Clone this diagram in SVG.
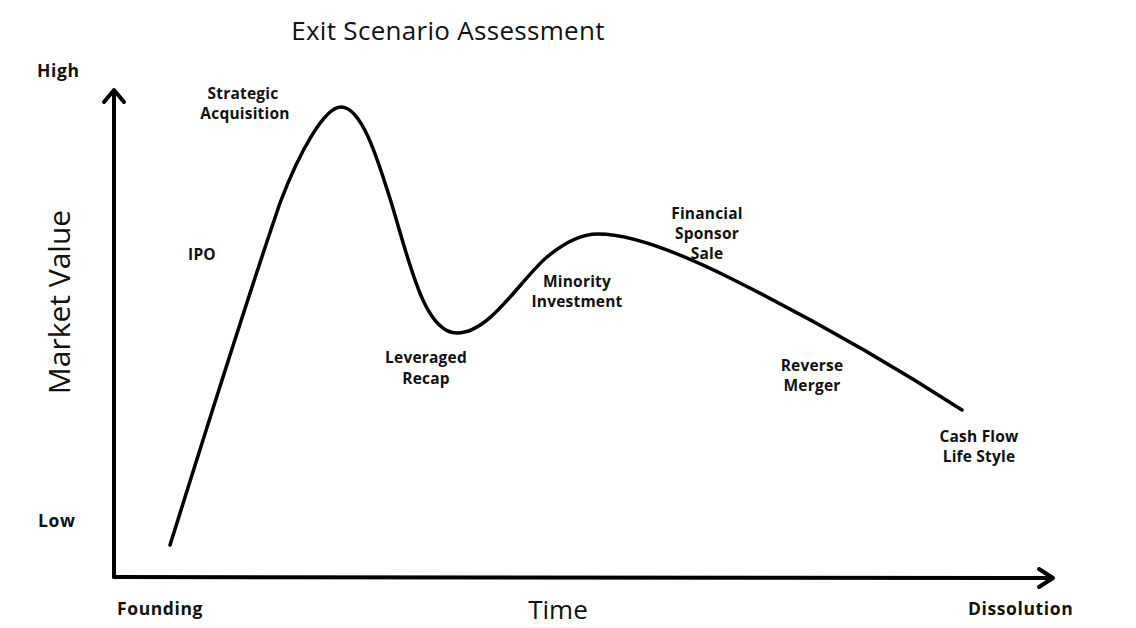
<svg xmlns="http://www.w3.org/2000/svg" width="1136" height="628" viewBox="0 0 1136 628">
<style>
.lbl{font-family:"Open Sans",Lato,sans-serif;font-weight:bold;font-size:15.5px;letter-spacing:0.2px;fill:#111;text-anchor:middle}
.ax{font-family:"Open Sans",Lato,sans-serif;font-weight:bold;font-size:17.5px;letter-spacing:0.6px;fill:#111}
.big{font-family:"Open Sans",Lato,sans-serif;font-size:26px;fill:#111;text-anchor:middle}
.line{fill:none;stroke:#000;stroke-linecap:round;stroke-linejoin:round}
</style>
<rect width="1136" height="628" fill="#fff"/>
<text class="big" x="448" y="40" style="letter-spacing:0.3px">Exit Scenario Assessment</text>
<g id="axes">
<path class="line" d="M114 577 L114 92" stroke-width="4"/>
<path class="line" d="M104 102 L114 90 L124 102" stroke-width="4"/>
<path class="line" d="M114 577 L1052 578" stroke-width="4"/>
<path class="line" d="M1039 569 L1053 578 L1039 587" stroke-width="4"/>
</g>
<g id="curve">
<path class="line" stroke-width="3.5" d="M170 545 C 200 450, 240 320, 280 203 C 300 150, 325 107, 341 107 C 362 107, 378 160, 392 205 C 410 265, 425 333, 457 333 C 490 333, 520 280, 547 257 C 565 242, 582 234, 598 234 C 630 234, 680 253, 730 278 C 800 313, 880 357, 962 410"/>
</g>
<text class="ax" x="37" y="77">High</text>
<text class="ax" x="38" y="527">Low</text>
<text class="ax" x="117" y="615">Founding</text>
<text class="ax" x="968" y="615">Dissolution</text>
<text class="big" x="558" y="619">Time</text>
<text class="big" transform="translate(70 302) rotate(-90)" x="0" y="0" style="font-size:30px">Market Value</text>
<g id="n-strategic"><text class="lbl" x="243" y="99">Strategic</text><text class="lbl" x="245" y="119">Acquisition</text></g>
<g id="n-ipo"><text class="lbl" x="202" y="260">IPO</text></g>
<g id="n-lev"><text class="lbl" x="426" y="363">Leveraged</text><text class="lbl" x="426" y="384">Recap</text></g>
<g id="n-min"><text class="lbl" x="577" y="287">Minority</text><text class="lbl" x="577" y="307">Investment</text></g>
<g id="n-fin"><text class="lbl" x="707" y="219">Financial</text><text class="lbl" x="707" y="239">Sponsor</text><text class="lbl" x="707" y="259">Sale</text></g>
<g id="n-rev"><text class="lbl" x="812" y="371">Reverse</text><text class="lbl" x="812" y="391">Merger</text></g>
<g id="n-cash"><text class="lbl" x="979" y="442">Cash Flow</text><text class="lbl" x="979" y="462">Life Style</text></g>
</svg>
